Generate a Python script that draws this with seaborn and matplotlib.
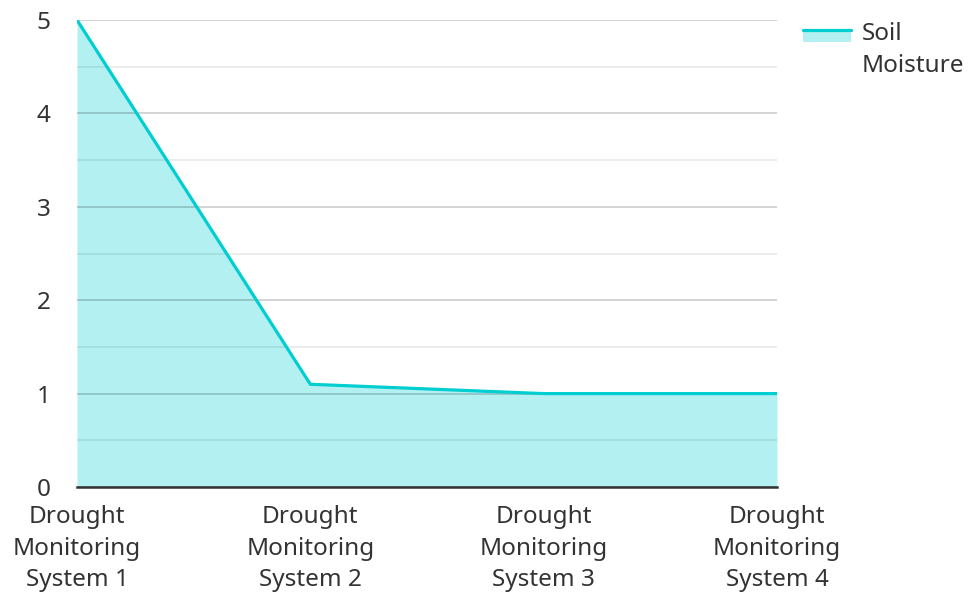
import matplotlib
matplotlib.use("Agg")
import matplotlib.pyplot as plt
import seaborn as sns
import pandas as pd
import numpy as np
from matplotlib.lines import Line2D
from matplotlib.patches import Patch, Rectangle
from matplotlib.legend_handler import HandlerBase

categories = ["Drought Monitoring System 1", "Drought Monitoring System 2",
              "Drought Monitoring System 3", "Drought Monitoring System 4"]
soil_moisture = [5.0, 1.1, 1.0, 1.0]
tick_labels = ["Drought\nMonitoring\nSystem 1", "Drought\nMonitoring\nSystem 2",
               "Drought\nMonitoring\nSystem 3", "Drought\nMonitoring\nSystem 4"]
y_ticks = [0, 1, 2, 3, 4, 5]

sns.set_theme(style="white")
plt.rcParams['font.family'] = ['Noto Sans', 'DejaVu Sans']

line_color = "#00CED1"
text_color = "#333333"
FS = 17.5
df = pd.DataFrame({"x": np.arange(len(categories)), "y": soil_moisture})

fig = plt.figure(figsize=(9.68, 5.92), dpi=100)
ax = fig.add_axes([77/968, 1-487/592, 700/968, 467/592])

ax.fill_between(df["x"], 0, df["y"], color=line_color, alpha=0.3, linewidth=0, zorder=1)
sns.lineplot(data=df, x="x", y="y", ax=ax, color=line_color, linewidth=2.3, zorder=3)

ax.set_xlim(0, len(categories) - 1)
ax.set_ylim(0, 5)
ax.set_yticks(y_ticks)
ax.set_yticks(np.arange(0.5, 5, 1), minor=True)
ax.set_xticks(df["x"])
ax.set_xticklabels(tick_labels, fontsize=FS, color=text_color, linespacing=1.42)
ax.set_yticklabels([str(t) for t in y_ticks], fontsize=FS, color=text_color)
ax.set_xlabel("")
ax.set_ylabel("")

ax.grid(True, which="major", axis="y", color="black", alpha=0.2, linewidth=1.2)
ax.grid(True, which="minor", axis="y", color="black", alpha=0.09, linewidth=1.2)
ax.set_axisbelow(False)
for s in ["top", "right", "left"]:
    ax.spines[s].set_visible(False)
ax.spines["bottom"].set_color(text_color)
ax.spines["bottom"].set_linewidth(1.8)
ax.spines["bottom"].set_zorder(4)
ax.tick_params(axis="y", which="major", length=2, width=1.2, color="#cccccc", pad=17)
ax.tick_params(axis="y", which="minor", length=2, width=1.2, color="#e8e8e8")
ax.tick_params(axis="x", length=0, pad=13)


class AreaLineHandler(HandlerBase):
    def create_artists(self, legend, orig_handle, xdescent, ydescent,
                       width, height, fontsize, trans):
        y_line = 20.4
        patch = Rectangle((-xdescent, y_line - 8.6), width, 8.6,
                          facecolor=line_color, alpha=0.3,
                          edgecolor="none", transform=trans)
        line = Line2D([-xdescent, -xdescent + width], [y_line, y_line],
                      color=line_color, linewidth=2.3, transform=trans)
        return [patch, line]


handle = Patch(facecolor=line_color)
leg = fig.legend([handle], ["Soil\nMoisture"], loc="upper left",
                 bbox_to_anchor=(803/968, 1-22/592), frameon=False, fontsize=FS,
                 handler_map={Patch: AreaLineHandler()}, handlelength=1.98,
                 handleheight=0.7, handletextpad=0.45, labelcolor=text_color,
                 borderpad=0, borderaxespad=0)
for t in leg.get_texts():
    t.set_linespacing(1.42)

fig.savefig("out.png", dpi=100)
